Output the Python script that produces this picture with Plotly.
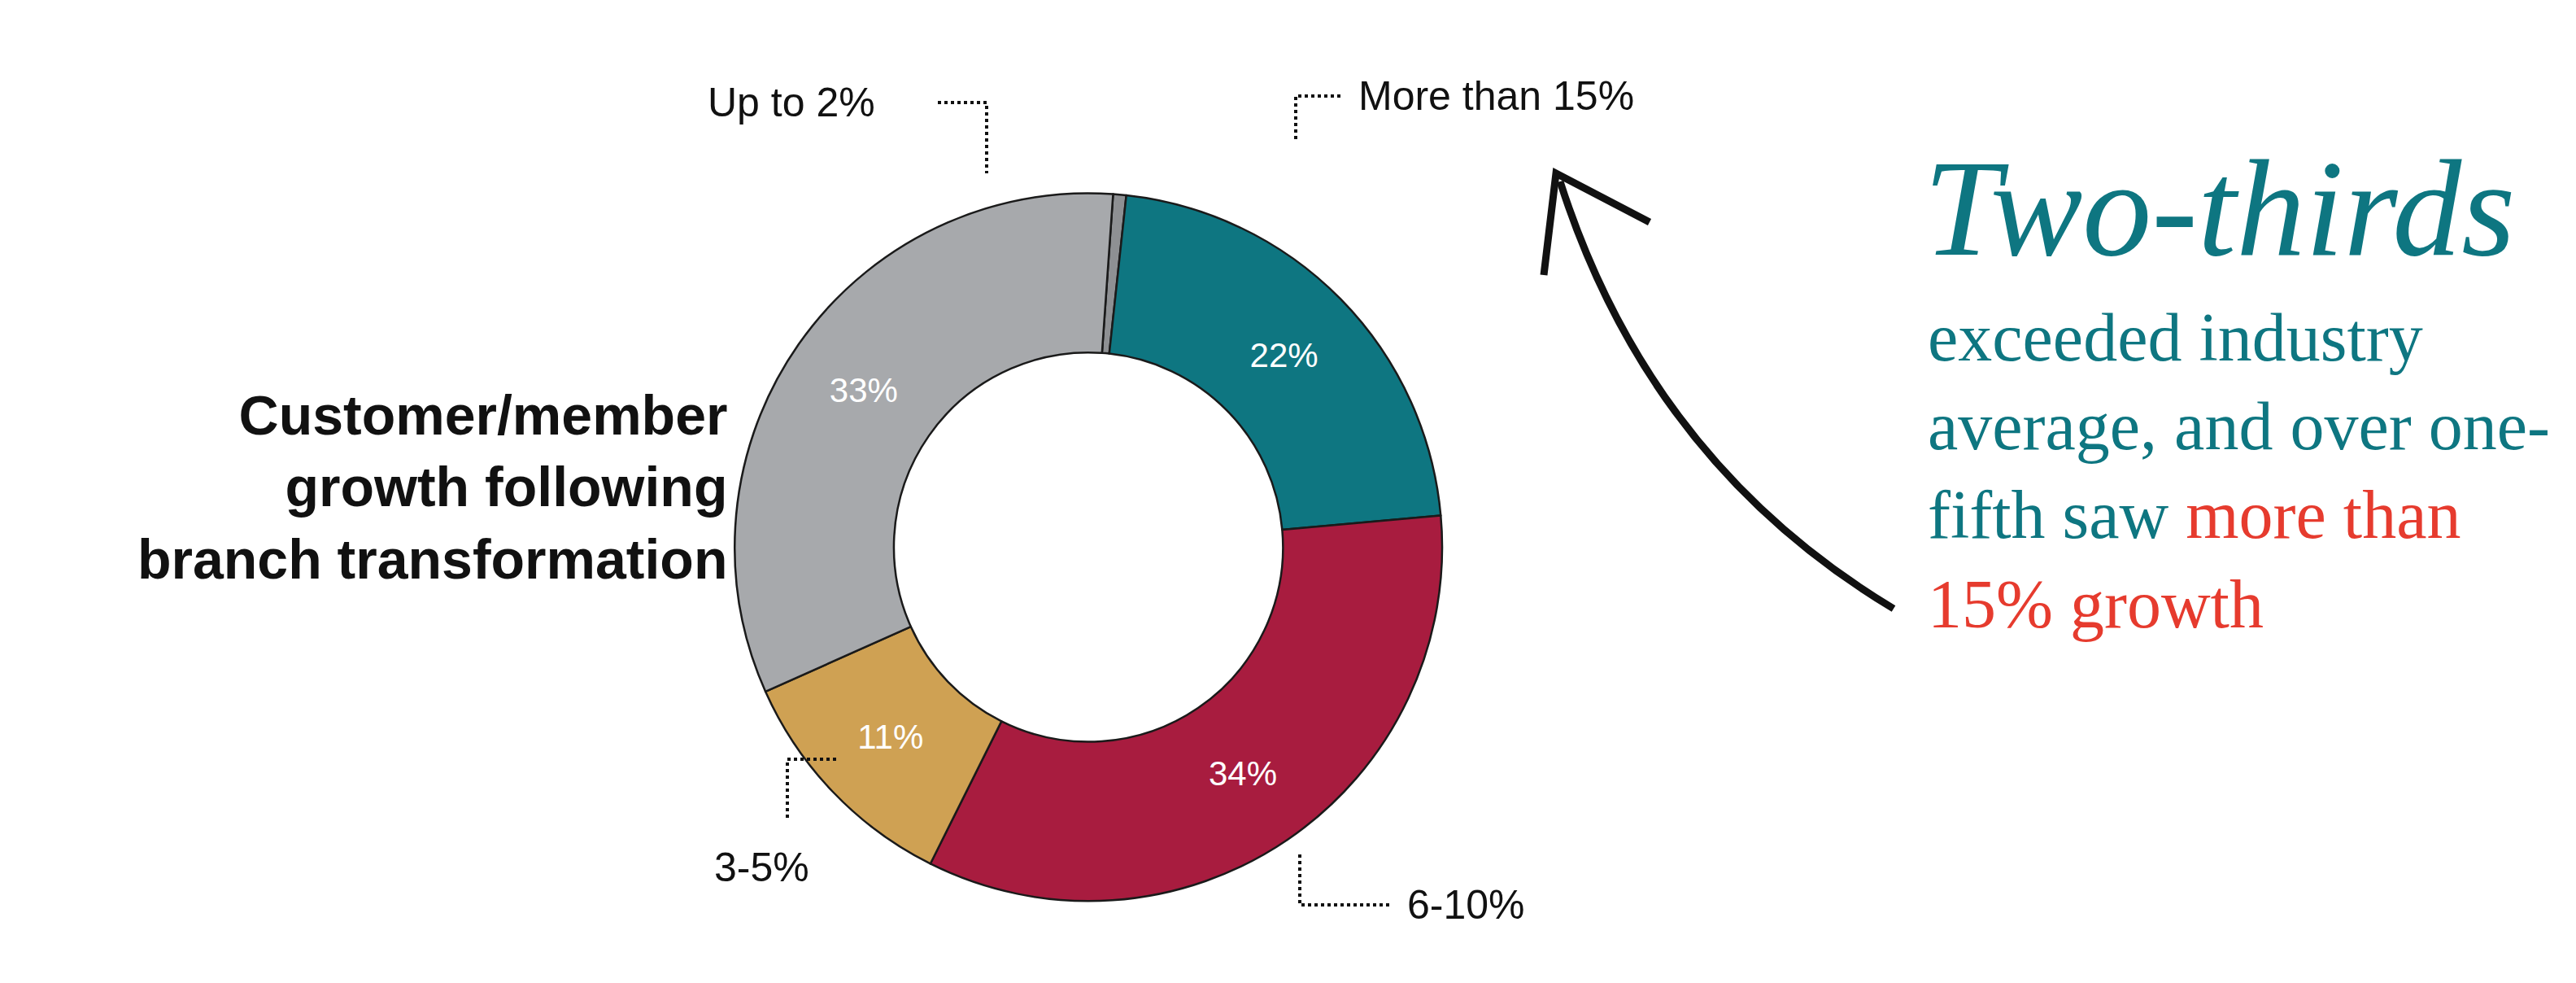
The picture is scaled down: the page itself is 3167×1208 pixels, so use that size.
import plotly.graph_objects as go

categories = ["Up to 2%", "More than 15%", "6-10%", "3-5%", "33% group"]
values = [0.6, 22, 34, 11, 33]
text_labels = ["", "22%", "34%", "11%", "33%"]
colors = ["#8E9093", "#0E7681", "#A81C3F", "#CFA153", "#A7A9AC"]

W, H = 3167, 1208
def px(x, y):
    return x / W, 1 - y / H

fig = go.Figure(go.Pie(
    values=values, labels=categories, text=text_labels, textinfo="text",
    textposition="inside", insidetextorientation="horizontal",
    sort=False, direction="clockwise", rotation=4, hole=0.55,
    marker=dict(colors=colors, line=dict(color="#1a1a1a", width=2.5)),
    textfont=dict(color="white", size=42, family="Liberation Sans"),
    domain=dict(x=[0.28, 0.56], y=[0.09, 0.81]), showlegend=False,
))

ann = []
def t(x, y, s, size, color="#111", xanchor="left", family="Liberation Sans", yanchor="middle"):
    X, Y = px(x, y)
    ann.append(dict(x=X, y=Y, xref="paper", yref="paper", text=s, showarrow=False,
                    xanchor=xanchor, yanchor=yanchor, align=xanchor if xanchor != "center" else "center",
                    font=dict(size=size, color=color, family=family)))

t(888, 590, "<b>Customer/member<br>growth following<br>branch transformation</b>", 68, xanchor="right")
t(860, 118, "Up to 2%", 50)
t(1660, 110, "More than 15%", 50)
t(868, 1058, "3-5%", 50)
t(1720, 1104, "6-10%", 50)
t(2355, 248, "<i>Two-thirds</i>", 170, color="#0E7681", family="Liberation Serif")
t(2360, 570, "exceeded industry<br>average, and over one-<br>fifth saw <span style='color:#E63B2E'>more than</span><br><span style='color:#E63B2E'>15% growth</span>",
  84, color="#0E7681", family="Liberation Serif")

shapes = []
def dline(pts):
    d = "M " + " L ".join(f"{x/W},{1-y/H}" for x, y in pts)
    shapes.append(dict(type="path", path=d, xref="paper", yref="paper",
                       line=dict(color="#111", width=4, dash="dot")))
dline([(1145, 118), (1205, 118), (1205, 205)])
dline([(1640, 110), (1585, 110), (1585, 165)])
dline([(1020, 925), (960, 925), (960, 1000)])
dline([(1700, 1104), (1590, 1104), (1590, 1040)])

# hand-drawn arrow
def path(pts_str):
    shapes.append(dict(type="path", path=pts_str, xref="paper", yref="paper",
                       line=dict(color="#111", width=9)))
def p(x, y):
    return f"{x/W},{1-y/H}"
path(f"M {p(2320,740)} Q {p(2020,560)} {p(1910,215)}")
path(f"M {p(1890,330)} L {p(1905,205)} L {p(2020,265)}")

fig.update_layout(width=W, height=H, margin=dict(l=0, r=0, t=0, b=0),
                  paper_bgcolor="white", plot_bgcolor="white",
                  annotations=ann, shapes=shapes)
fig.write_html("out.html")
